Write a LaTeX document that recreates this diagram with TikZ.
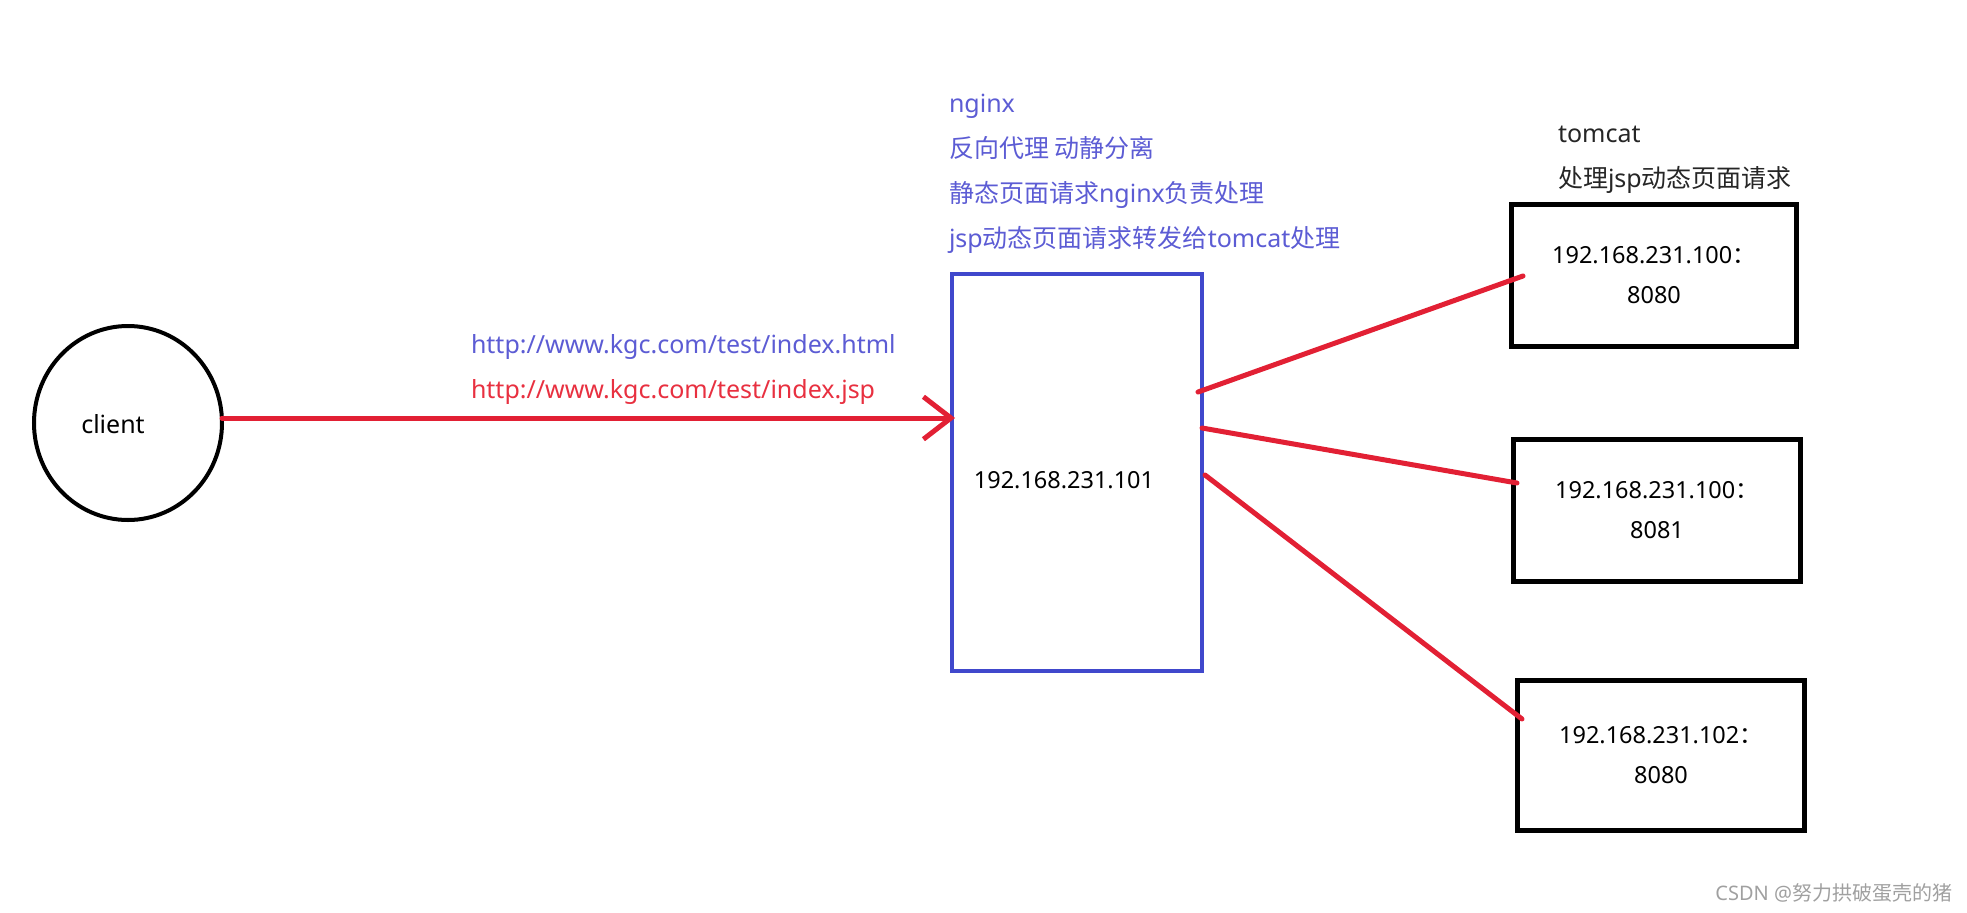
\documentclass[tikz,border=0pt]{standalone}
\usepackage{fontspec}
\setmainfont{Noto Sans}
\newfontfamily\cjk{Noto Sans CJK SC}
\usetikzlibrary{shapes.geometric,arrows.meta,calc}
\definecolor{lblue}{RGB}{92,92,212}
\definecolor{bblue}{RGB}{64,72,204}
\definecolor{rred}{RGB}{226,32,52}
\definecolor{tred}{RGB}{232,48,64}
\definecolor{dgrey}{RGB}{38,38,38}
\definecolor{wgrey}{RGB}{160,160,160}
\begin{document}
\begin{tikzpicture}[x=0.4pt,y=-0.4pt,
  every node/.style={inner sep=0pt, outer sep=0pt},
  lblfont/.style={font=\fontsize{10}{12}\selectfont},
  iplabel/.style={font=\fontsize{9.4}{16.2}\selectfont, text=black},
  bluelbl/.style={lblfont, anchor=base west, text=lblue},
  tomlbl/.style={lblfont, anchor=base west, text=dgrey},
  tomcatbox/.style={draw=black, line width=2pt, iplabel, align=center, text depth=0.3pt},
  link/.style={draw=rred, line width=2pt, line cap=round},
]
\useasboundingbox (0,0) rectangle (1967,913);

% client
\node[draw=black, line width=1.6pt, ellipse, minimum width=75.2pt, minimum height=77.6pt] (client) at (128,423) {};
\node[lblfont, anchor=base, text=black] (clientlbl) at (113,433) {client};

% nginx
\node[draw=bblue, line width=1.6pt, minimum width=100pt, minimum height=158.8pt] (nginx) at (1077,472.5) {};
\node[iplabel, anchor=base] (nginxip) at (1064,488) {192.168.231.101};

\node[bluelbl] (n1) at (949,112) {nginx};
\node[bluelbl] (n2) at (949,157) {\cjk 反向代理 动静分离};
\node[bluelbl] (n3) at (949,202) {{\cjk 静态页面请求}nginx{\cjk 负责处理}};
\node[bluelbl] (n4) at (949,247) {jsp{\cjk 动态页面请求转发给}tomcat{\cjk 处理}};

% urls
\node[lblfont, anchor=base west, text=lblue] (u1) at (471,353) {http://www.kgc.com/test/index.html};
\node[lblfont, anchor=base west, text=tred] (u2) at (471,398) {http://www.kgc.com/test/index.jsp};

% tomcat
\node[tomlbl] (t1) at (1558,142) {tomcat};
\node[tomlbl] (t2) at (1558,187) {{\cjk 处理}jsp{\cjk 动态页面请求}};

\node[tomcatbox, minimum width=114pt, minimum height=56.8pt] (tc1) at (1654,275.5) {192.168.231.100{\cjk ：}\\8080};
\node[tomcatbox, minimum width=114.8pt, minimum height=56.8pt] (tc2) at (1657,510.5) {192.168.231.100{\cjk ：}\\8081};
\node[tomcatbox, minimum width=114.8pt, minimum height=60pt] (tc3) at (1661,755.5) {192.168.231.102{\cjk ：}\\8080};

% connectors
\draw[link, -{Straight Barb[length=11pt,width=17pt]}] ($(client.east)+(0,-5)$) -- ($(nginx.west)+(3,-54.5)$);
\draw[link] ($(nginx.east)+(-4,-80.5)$) -- ($(tc1.west)+(11.5,0.5)$);
\draw[link] ($(nginx.east)+(0,-44.5)$) -- ($(tc2.west)+(3.5,-27.5)$);
\draw[link] ($(nginx.east)+(3,2.5)$) -- ($(tc3.west)+(4.5,-36.5)$);

% watermark
\node[font=\fontsize{8}{10}\selectfont, text=wgrey, anchor=base east] (wm) at (1952,900) {CSDN @{\cjk 努力拱破蛋壳的猪}};
\end{tikzpicture}
\end{document}
